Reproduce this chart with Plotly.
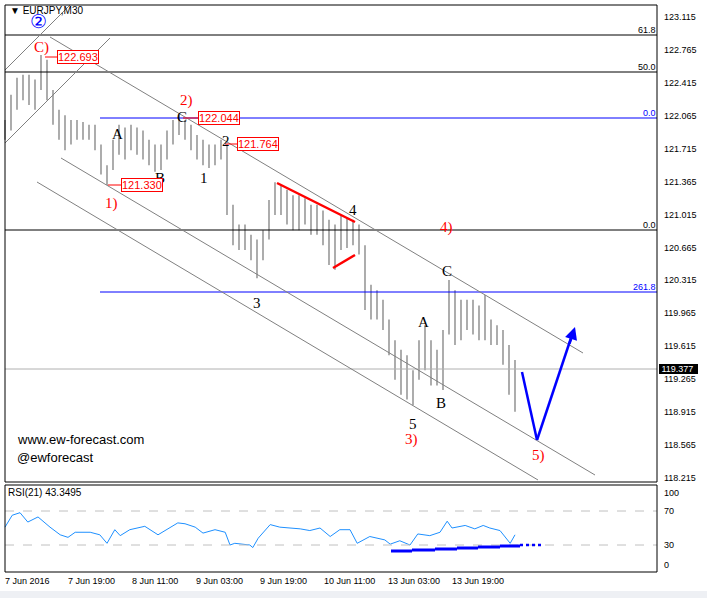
import plotly.graph_objects as go

W, H = 707, 598
# ---- data ----
bar_high = [122.02,122.29,122.47,122.50,122.50,122.45,122.71,122.66,122.34,122.13,122.07,122.02,122.02,122.00,121.97,121.97,
            121.76,121.54,121.81,121.97,121.94,121.97,121.94,121.91,121.81,121.76,121.76,121.91,122.02,122.07,122.02,121.97,
            121.86,121.81,121.76,121.76,121.81,121.76,121.12,120.91,120.91,120.80,120.75,120.85,121.17,121.36,121.33,121.28,
            121.22,121.22,121.19,121.12,121.12,121.06,120.96,120.91,121.01,120.98,120.96,120.91,120.69,120.27,120.21,120.11,
            119.90,119.68,119.58,119.52,119.36,119.68,119.84,119.68,119.58,119.79,120.32,120.21,120.11,120.11,120.11,120.05,
            120.16,119.90,119.84,119.79,119.63,119.47]
bar_low = [121.81,121.91,122.13,122.23,122.18,122.13,122.34,122.23,121.97,121.81,121.70,121.76,121.81,121.81,121.81,121.70,
           121.44,121.33,121.49,121.65,121.60,121.70,121.65,121.60,121.54,121.47,121.49,121.60,121.76,121.86,121.81,121.70,
           121.60,121.54,121.51,121.54,121.60,121.01,120.69,120.64,120.64,120.53,120.34,120.53,120.75,121.01,121.01,120.91,
           120.85,120.85,120.91,120.80,120.80,120.69,120.48,120.43,120.64,120.66,120.69,120.59,120.00,119.90,119.90,119.79,
           119.52,119.26,119.10,119.05,118.99,119.26,119.36,119.20,119.20,119.15,119.74,119.63,119.68,119.79,119.74,119.68,
           119.68,119.63,119.63,119.42,119.10,118.92]
rsi_x = [0,1.2,2.5,3.8,5.5,7.5,9.2,10.5,11.7,14.2,15.8,17,18.3,19.2,20.8,23.3,25.5,27.5,28.8,30,31.7,33,35,36.7,37.5,38.3,
         40.8,41.3,42.2,44.2,45.8,47.5,49.2,50.8,52.5,54.2,55.8,57.5,58.7,60.8,63.3,64.2,65.8,67.5,68.8,70.8,72.5,73.7,74.5,
         76.7,78.3,79.7,80.8,82.5,84.2,85]
rsi_v = [51,65,68,57,63,51,42,39,45,45,42,32,48,41,48,52,42,50,56,55,51,44,48,45,30,32,30,27,38,54,51,50,49,47,50,
         40,48,48,32,40,36,31,35,30,43,41,45,58,50,53,49,53,50,47,32,42]
price_ticks = [123.115,122.765,122.415,122.065,121.715,121.365,121.015,120.665,120.315,119.965,119.615,119.265,118.915,118.565,118.215]
time_labels = ["7 Jun 2016","7 Jun 19:00","8 Jun 11:00","9 Jun 03:00","9 Jun 19:00","10 Jun 11:00","13 Jun 03:00","13 Jun 19:00"]
time_px = [5,68,132,196,260,324,388,452]
last_price = 119.377

# ---- pixel helpers for layout ----
def px(x): return (x - 5) / 6.0
def py(y): return 123.115 - (y - 17) * 0.010627
def pv(y): return (570.5 - y) / 0.85
def pp(y): return 1 - y / H

fig = go.Figure()
xs, ys = [], []
for i, (h, l) in enumerate(zip(bar_high, bar_low)):
    xs += [i, i, None]; ys += [h, l, None]
fig.add_trace(go.Scatter(x=xs, y=ys, mode="lines", line=dict(color="#808080", width=1.3), hoverinfo="skip"))
fig.add_trace(go.Scatter(x=rsi_x, y=rsi_v, mode="lines", line=dict(color="#1e90ff", width=1), yaxis="y2", hoverinfo="skip"))

shapes = []
def seg(x0, y0, x1, y1, color="#808080", w=1, dash=None, yref="y"):
    conv = py if yref == "y" else pv
    shapes.append(dict(type="line", x0=px(x0), x1=px(x1), y0=conv(y0), y1=conv(y1), xref="x", yref=yref,
                       line=dict(color=color, width=w, dash=dash)))

for y, c, x0 in [(35, "black", 5), (72, "black", 5), (230, "black", 5), (118, "blue", 100), (292, "blue", 100), (369, "#b0b0b0", 5)]:
    seg(x0, y, 657, y, c, 1)
seg(50, 37, 583, 353); seg(61, 158, 595, 475); seg(37, 182, 538, 480)
seg(5, 143, 110, 38); seg(5, 70, 70, 5)
seg(277, 183, 355, 222, "red", 2.5); seg(333, 268, 355, 255, "red", 2.5)
seg(522, 372, 537, 440, "blue", 2.5); seg(537, 440, 571, 338, "blue", 2.5)
seg(45, 57, 57, 57, "red"); seg(183, 118, 198, 118, "red"); seg(225, 144, 237, 144, "red"); seg(108, 185, 121, 185, "red")
seg(5, 511, 657, 511, "#c0c0c0", 1, "dash", "y2"); seg(5, 545, 657, 545, "#c0c0c0", 1, "dash", "y2")
# stepped rsi trendline
for x0, x1, y in [(391, 412, 551), (412, 435, 550), (435, 457, 549), (457, 478, 548), (478, 500, 547), (500, 520, 546)]:
    seg(x0, y, x1, y, "blue", 3, None, "y2")
seg(520, 545, 542, 545, "blue", 2.5, "dot", "y2")
for (x0, y0, x1, y1) in [(5, 5, 657, 482), (5, 485, 657, 572)]:
    shapes.append(dict(type="rect", xref="paper", yref="paper", x0=x0 / W, x1=x1 / W, y0=pp(y1), y1=pp(y0),
                       line=dict(color="black", width=1)))
shapes.append(dict(type="rect", xref="paper", yref="paper", x0=0, x1=1, y0=0, y1=pp(591), fillcolor="#eef0f4", line=dict(width=0)))

ann = []
def txt(x, y, s, color="black", size=15, xa="center", font="Liberation Serif", bg=None, border=None):
    ann.append(dict(x=x / W, y=pp(y), xref="paper", yref="paper", text=s, showarrow=False, xanchor=xa, yanchor="middle",
                    font=dict(color=color, size=size, family=font), bgcolor=bg, bordercolor=border, borderwidth=1 if border else 0, borderpad=0))
for x, y, s, c in [(38, 22, "②", "blue"), (41, 47, "C)", "red"), (117, 134, "A", "black"), (160, 178, "B", "black"),
                   (182, 117, "C", "black"), (187, 100, "2)", "red"), (204, 178, "1", "black"), (226, 141, "2", "black"),
                   (111, 203, "1)", "red"), (257, 303, "3", "black"), (353, 210, "4", "black"), (446, 227, "4)", "red"),
                   (447, 271, "C", "black"), (423, 322, "A", "black"), (441, 403, "B", "black"), (413, 424, "5", "black"),
                   (411, 439, "3)", "red"), (538, 455, "5)", "red")]:
    txt(x, y, s, c, 19 if s == "②" else 15)
for x, y, s in [(57, 57, "122.693"), (198, 118, "122.044"), (237, 144, "121.764"), (121, 185, "121.330")]:
    txt(x, y, s, "red", 11, "left", "Liberation Sans", "white", "red")
txt(17, 439, "www.ew-forecast.com", "black", 13, "left", "Liberation Sans")
txt(17, 457, "@ewforecast", "black", 13, "left", "Liberation Sans")
txt(10, 11, "▼ EURJPY,M30", "black", 10, "left", "Liberation Sans")
txt(8, 492, "RSI(21) 43.3495", "black", 10, "left", "Liberation Sans")
for y, s, c in [(30, "61.8", "black"), (67, "50.0", "black"), (113, "0.0", "blue"), (225, "0.0", "black"), (287, "261.8", "blue")]:
    txt(656, y, s, c, 9, "right", "Liberation Sans")
for t in price_ticks:
    yp = 17 + (123.115 - t) / 0.010627
    txt(664, yp, f"{t:.3f}", "black", 9, "left", "Liberation Sans")
yl = 17 + (123.115 - last_price) / 0.010627
txt(659, yl, f" {last_price:.3f}  ", "white", 9, "left", "Liberation Sans", "black")
for y, s in [(493, "100"), (511, "70"), (545, "30"), (565, "0")]:
    txt(664, y, s, "black", 9, "left", "Liberation Sans")
for xp, s in zip(time_px, time_labels):
    txt(xp, 581, s, "black", 9, "left", "Liberation Sans")
    seg(xp, 572, xp, 575, "black", 1, None, "y2")
# arrowhead
ann.append(dict(x=px(575), y=py(327), ax=px(569), ay=py(345), xref="x", yref="y", axref="x", ayref="y",
                showarrow=True, arrowhead=2, arrowsize=1, arrowwidth=2.5, arrowcolor="blue", text=""))

fig.update_layout(width=W, height=H, margin=dict(l=0, r=0, t=0, b=0), paper_bgcolor="white", plot_bgcolor="white",
                  showlegend=False, shapes=shapes, annotations=ann,
                  xaxis=dict(range=[px(0), px(W)], visible=False, domain=[0, 1]),
                  yaxis=dict(range=[py(482), py(5)], domain=[pp(482), pp(5)], visible=False),
                  yaxis2=dict(range=[pv(572), pv(485)], domain=[pp(572), pp(485)], visible=False))
fig.write_html("out.html", config={"displayModeBar": False},
               post_script="document.body.style.margin='0';document.body.style.overflow='hidden';")
